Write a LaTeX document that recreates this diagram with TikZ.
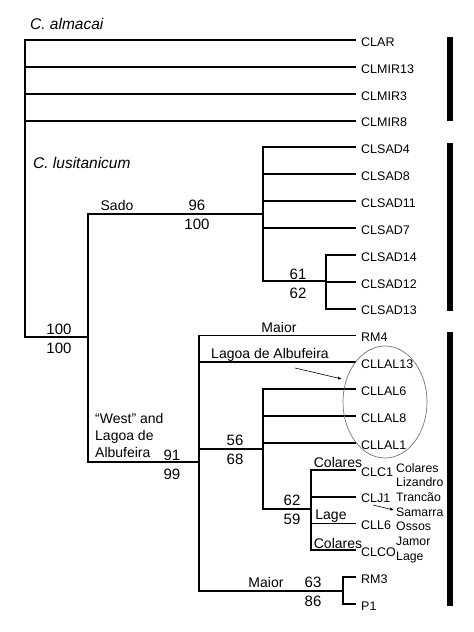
\documentclass[tikz,border=0pt]{standalone}
\usepackage{fontspec}
\setmainfont{Liberation Sans}
\usetikzlibrary{arrows.meta, shapes.geometric}

\begin{document}
\begin{tikzpicture}[
        x=1pt, y=-1pt,
        branch/.style={line width=1.9pt, line cap=rect},
        taxon/.style={anchor=west, inner sep=0pt, xshift=6pt, yshift=-2pt, font=\fontsize{12.5}{14}\selectfont},
        boot/.style={inner sep=0pt, font=\fontsize{15}{17}\selectfont},
        place/.style={inner sep=0pt, font=\fontsize{14}{17}\selectfont},
        species/.style={anchor=west, inner sep=0pt, font=\fontsize{15.5}{18}\selectfont\itshape},
        towns/.style={anchor=west, inner sep=0pt, align=left, font=\fontsize{12.3}{14.7}\selectfont},
        ring/.style={ellipse, draw=black!55, line width=0.7pt, minimum width=84pt, minimum height=112pt},
        pointer/.style={-{Latex[length=4pt,width=3pt]}, line width=0.6pt}
    ]
    \useasboundingbox (0,0) rectangle (474,632);

    \foreach \name [count=\i from 0] in {CLAR, CLMIR13, CLMIR3, CLMIR8, CLSAD4, CLSAD8, CLSAD11, CLSAD7, CLSAD14, CLSAD12, CLSAD13, RM4, CLLAL13, CLLAL6, CLLAL8, CLLAL1, CLC1, CLJ1, CLL6, CLCO, RM3, P1} {
        \coordinate (\name) at (355,{40+26.86*\i});
        \node[taxon] (t-\name) at (\name) {\name};
    }

    \coordinate (root) at (25,337);
    \coordinate (lus) at (88,337);
    \coordinate (sado) at (263,214);
    \coordinate (sadsub) at (326,281);
    \coordinate (west) at (199,462);
    \coordinate (lal) at (263,449);
    \coordinate (col) at (311,509);
    \coordinate (maior) at (343,591);

    \foreach \leaf in {CLAR, CLMIR13, CLMIR3, CLMIR8}
        \draw[branch] (root) |- (\leaf);
    \draw[branch] (root) -- (lus);
    \draw[branch] (lus) |- (sado);
    \draw[branch] (lus) |- (west);
    \foreach \leaf in {CLSAD4, CLSAD8, CLSAD11, CLSAD7, sadsub}
        \draw[branch] (sado) |- (\leaf);
    \foreach \leaf in {CLSAD14, CLSAD12, CLSAD13}
        \draw[branch] (sadsub) |- (\leaf);
    \foreach \leaf in {RM4, CLLAL13, lal, maior}
        \draw[branch] (west) |- (\leaf);
    \foreach \leaf in {CLLAL6, CLLAL8, CLLAL1, col}
        \draw[branch] (lal) |- (\leaf);
    \foreach \leaf in {CLC1, CLJ1, CLL6, CLCO}
        \draw[branch] (col) |- (\leaf);
    \foreach \leaf in {RM3, P1}
        \draw[branch] (maior) |- (\leaf);

    \node[species] (almacai) at (30,24) {C. almacai};
    \node[species] (lusitanicum) at (33,163) {C. lusitanicum};

    \node[boot] (b-lus-a) at (59,329) {100};
    \node[boot] (b-lus-b) at (59,348) {100};
    \node[boot] (b-sado-a) at (197,205) {96};
    \node[boot] (b-sado-b) at (197,224) {100};
    \node[boot] (b-sub-a) at (298,274) {61};
    \node[boot] (b-sub-b) at (298,293) {62};
    \node[boot] (b-west-a) at (172,455) {91};
    \node[boot] (b-west-b) at (172,474) {99};
    \node[boot] (b-lal-a) at (235,440) {56};
    \node[boot] (b-lal-b) at (235,459) {68};
    \node[boot] (b-col-a) at (292,500) {62};
    \node[boot] (b-col-b) at (292,519) {59};
    \node[boot] (b-maior-a) at (313,582) {63};
    \node[boot] (b-maior-b) at (313,601) {86};

    \node[place] (p-sado) at (117,205) {Sado};
    \node[place] (p-maior) at (279,327) {Maior};
    \node[place] (p-lagoa) at (270,355) {Lagoa de Albufeira};
    \node[place, anchor=west, align=left] (p-west) at (95,435) {“West” and\\Lagoa de\\Albufeira};
    \node[place] (p-col1) at (338,462) {Colares};
    \node[place] (p-lage) at (331,516) {Lage};
    \node[place] (p-col2) at (338,543) {Colares};
    \node[place] (p-maior2) at (266,582) {Maior};

    \node[towns] (t-towns) at (396,513) {Colares\\Lizandro\\Trancão\\Samarra\\Ossos\\Jamor\\Lage};

    \node[ring] (albufeira) at (385,402) {};
    \coordinate (a1) at (295,368);
    \coordinate (a2) at (342,379);
    \coordinate (j1) at (373,505);
    \coordinate (j2) at (394,510);
    \draw[pointer] (a1) -- (a2);
    \draw[pointer] (j1) -- (j2);

    \fill (447,37) rectangle (453,121);
    \fill (447,143) rectangle (453,311);
    \fill (447,332) rectangle (453,606);
\end{tikzpicture}
\end{document}
